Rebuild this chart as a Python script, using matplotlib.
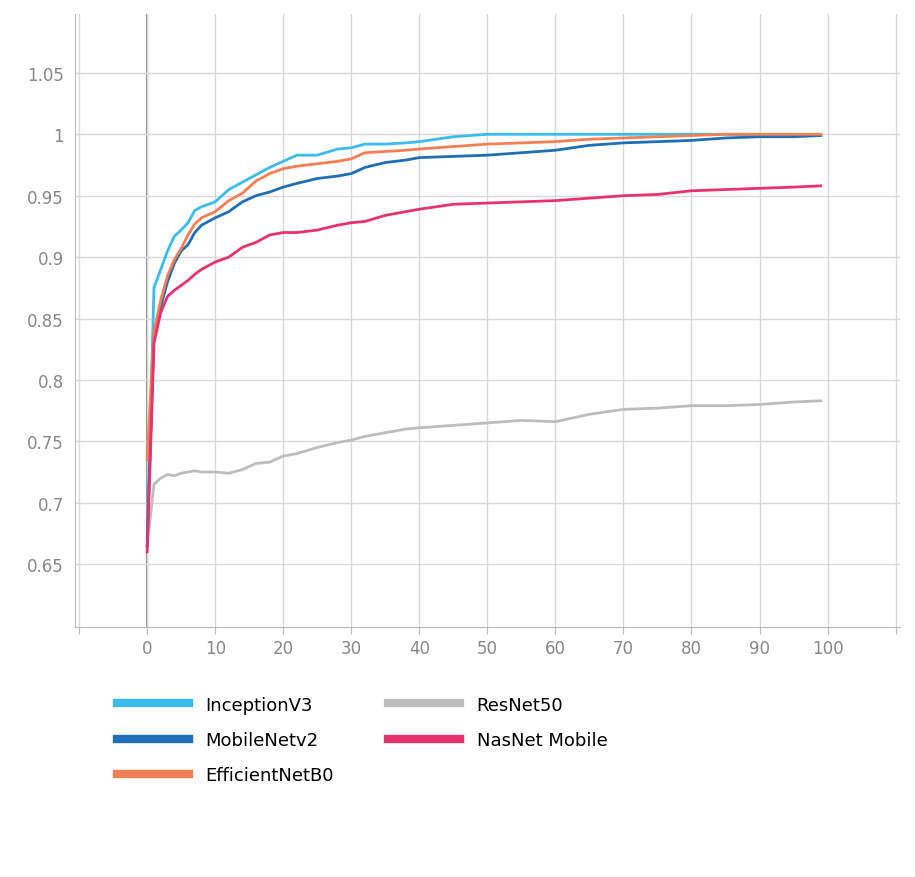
import matplotlib
matplotlib.use("Agg")
import matplotlib.pyplot as plt
from matplotlib.ticker import FuncFormatter

epochs = [0, 1, 2, 3, 4, 5, 6, 7, 8, 10, 12, 14, 16, 18, 20, 22, 25, 28, 30, 32, 35, 38, 40,
          45, 50, 55, 60, 65, 70, 75, 80, 85, 90, 95, 99]

inception = [0.67, 0.875, 0.89, 0.905, 0.917, 0.922, 0.928, 0.938, 0.941, 0.945, 0.955, 0.961,
             0.967, 0.973, 0.978, 0.983, 0.983, 0.988, 0.989, 0.992, 0.992, 0.993, 0.994,
             0.998, 1.0, 1.0, 1.0, 1.0, 1.0, 1.0, 1.0, 1.0, 0.999, 0.999, 0.999]
mobilenet = [0.665, 0.835, 0.86, 0.88, 0.895, 0.905, 0.91, 0.92, 0.926, 0.932, 0.937, 0.945,
             0.95, 0.953, 0.957, 0.96, 0.964, 0.966, 0.968, 0.973, 0.977, 0.979, 0.981,
             0.982, 0.983, 0.985, 0.987, 0.991, 0.993, 0.994, 0.995, 0.997, 0.998, 0.998, 0.999]
efficient = [0.735, 0.84, 0.865, 0.885, 0.898, 0.907, 0.918, 0.927, 0.932, 0.937, 0.946, 0.952,
             0.962, 0.968, 0.972, 0.974, 0.976, 0.978, 0.98, 0.985, 0.986, 0.987, 0.988,
             0.99, 0.992, 0.993, 0.994, 0.996, 0.997, 0.998, 0.999, 1.0, 1.0, 1.0, 1.0]
resnet = [0.665, 0.715, 0.72, 0.723, 0.722, 0.724, 0.725, 0.726, 0.725, 0.725, 0.724, 0.727,
          0.732, 0.733, 0.738, 0.74, 0.745, 0.749, 0.751, 0.754, 0.757, 0.76, 0.761,
          0.763, 0.765, 0.767, 0.766, 0.772, 0.776, 0.777, 0.779, 0.779, 0.78, 0.782, 0.783]
nasnet = [0.66, 0.83, 0.855, 0.868, 0.873, 0.877, 0.881, 0.886, 0.89, 0.896, 0.9, 0.908,
          0.912, 0.918, 0.92, 0.92, 0.922, 0.926, 0.928, 0.929, 0.934, 0.937, 0.939,
          0.943, 0.944, 0.945, 0.946, 0.948, 0.95, 0.951, 0.954, 0.955, 0.956, 0.957, 0.958]

series = [
    ("InceptionV3", inception, "#3bbcec"),
    ("MobileNetv2", mobilenet, "#1f6fb4"),
    ("EfficientNetB0", efficient, "#f47f55"),
    ("ResNet50", resnet, "#bdbdbd"),
    ("NasNet Mobile", nasnet, "#e8326f"),
]

fig = plt.figure(figsize=(9.15, 8.78), dpi=100)
ax = fig.add_axes([0.082, 0.285, 0.902, 0.698])

handles = []
for label, vals, color in [series[i] for i in (3, 0, 1, 2, 4)]:
    h, = ax.plot(epochs, vals, color=color, lw=2, label=label)
    handles.append(h)
order = {s[0]: k for k, s in enumerate(series)}
handles.sort(key=lambda h: order[h.get_label()])

ax.axvline(0, color="#888888", lw=1.5, zorder=0)
ax.set_xlim(-10.6, 110.7)
ax.set_ylim(0.599, 1.098)
ax.set_xticks(range(-10, 111, 10))
ax.set_xticklabels([""] + [str(v) for v in range(0, 101, 10)] + [""])
ax.set_yticks([0.65, 0.7, 0.75, 0.8, 0.85, 0.9, 0.95, 1.0, 1.05])
ax.yaxis.set_major_formatter(FuncFormatter(lambda v, p: f"{v:g}"))
ax.grid(True, color="#d9d9d9", lw=1)
for s in ("top", "right"):
    ax.spines[s].set_visible(False)
for s in ("left", "bottom"):
    ax.spines[s].set_color("#bbbbbb")
ax.tick_params(colors="#bbbbbb", labelcolor="#888888", labelsize=12, length=5)
ax.tick_params(axis="y", length=0, pad=8)

leg = fig.legend(handles=handles, ncol=2, loc="upper left", bbox_to_anchor=(0.11, 0.225),
                 frameon=False, fontsize=13, handlelength=4, columnspacing=3,
                 labelspacing=0.95, handletextpad=0.9)
for line in leg.get_lines():
    line.set_linewidth(6)

fig.savefig("out.png", dpi=100)
